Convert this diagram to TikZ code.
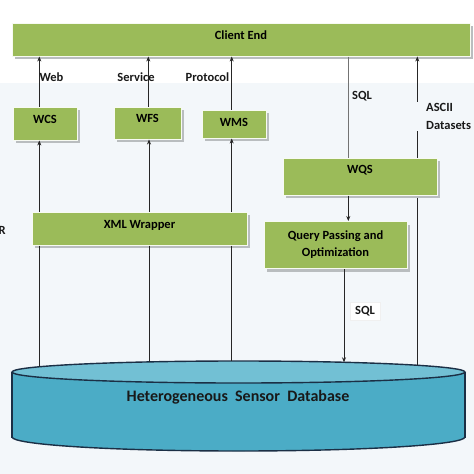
\documentclass[tikz,border=0pt]{standalone}
\usepackage{fontspec}
\setmainfont{Carlito}
\usetikzlibrary{arrows.meta}
\definecolor{boxgreen}{HTML}{9BBB59}
\definecolor{dbbody}{HTML}{4BACC6}
\definecolor{dbtopc}{HTML}{72C0D4}
\definecolor{dbline}{HTML}{1B2F45}
\definecolor{bgblue}{HTML}{F3F7FA}
\definecolor{shadowc}{HTML}{B9BDBF}
\begin{document}
\begin{tikzpicture}[x=1pt,y=-1pt,
  font=\bfseries\fontsize{12.5}{15}\selectfont,
  gbox/.style={rectangle, fill=boxgreen, draw=white!92!boxgreen, line width=1pt, inner sep=0pt,
    preaction={fill=shadowc, transform canvas={xshift=2.5pt,yshift=-3pt}}},
  tshift/.style={text height=8pt, text depth=#1},
  lbl/.style={inner sep=1pt, text=black!90},
  arr/.style={-{Stealth[length=5pt,width=4pt]}, line width=0.7pt, draw=black!85},
  ln/.style={line width=0.7pt, draw=black!85}
]
\useasboundingbox (0,0) rectangle (474,474);
\fill[bgblue] (0,0) rectangle (474,474);
\fill[white] (0,0) rectangle (474,83);

% database cylinder
\draw[dbline, line width=1.4pt, fill=dbbody] (238.5,437) ellipse[x radius=226.5, y radius=14];
\fill[dbbody] (12,372) rectangle (465,437);
\draw[dbline, line width=1.4pt] (12,372) -- (12,437.5);
\draw[dbline, line width=1.4pt] (465,372) -- (465,437.5);
\draw[dbline, line width=1.4pt, fill=dbtopc] (238.5,372) ellipse[x radius=226.5, y radius=11];
\node[font=\bfseries\fontsize{16}{19}\selectfont, text=black!90, inner sep=0pt] (dbtext) at (238,397) {Heterogeneous\ \ Sensor\ \ Database};

% points on the top of the database
\coordinate (d1) at (39.3,366.8);
\coordinate (d2) at (149,361.9);
\coordinate (d3) at (231.7,361.0);
\coordinate (d4) at (344,362.3);
\coordinate (d5) at (417.3,365.2);

% boxes
\node[gbox, tshift=9pt, minimum width=458, minimum height=33] (client) at (241,39.5) {Client End};

% line from database to client (behind WQS)
\draw[arr] (d5) -- (d5 |- client.south);

\node[gbox, tshift=9pt, minimum width=64, minimum height=33] (wcs) at (45,123.5) {WCS};
\node[gbox, tshift=10pt, minimum width=67, minimum height=32] (wfs) at (147.5,123) {WFS};
\node[gbox, tshift=4pt, minimum width=64, minimum height=28] (wms) at (234,124) {WMS};
\node[gbox, tshift=9pt, minimum width=215, minimum height=33] (xml) at (139.5,228.5) {XML Wrapper};
\node[gbox, tshift=15pt, minimum width=154, minimum height=37] (wqs) at (360,176.5) {WQS};
\node[gbox, minimum width=143, minimum height=47, align=center, font=\bfseries\fontsize{12.5}{17}\selectfont] (qpo) at (335.5,245) {Query Passing and\\Optimization};

% connectors to client end
\draw[arr] ([xshift=-5.7pt]wcs.north) -- ([xshift=-5.7pt]wcs.north |- client.south);
\draw[arr] ([xshift=0.8pt]wfs.north) -- ([xshift=0.8pt]wfs.north |- client.south);
\draw[arr] ([xshift=-2.3pt]wms.north) -- ([xshift=-2.3pt]wms.north |- client.south);
% xml wrapper to services
\draw[arr] ([xshift=-5.7pt]wcs.south |- xml.north) -- ([xshift=-5.7pt]wcs.south);
\draw[arr] ([xshift=1.5pt]wfs.south |- xml.north) -- ([xshift=1.5pt]wfs.south);
\draw[arr] ([xshift=-2.3pt]wms.south |- xml.north) -- ([xshift=-2.3pt]wms.south);
% xml wrapper to database
\draw[ln] (d1 |- xml.south) -- (d1);
\draw[ln] (d2 |- xml.south) -- (d2);
\draw[ln] (d3 |- xml.south) -- (d3);
% client to WQS, WQS to QPO, QPO to DB
\draw[line width=1pt, draw=black!55] ([xshift=-11.7pt]wqs.north |- client.south) -- ([xshift=-11.7pt]wqs.north);
\draw[arr] ([xshift=-11.7pt]wqs.south) -- ([xshift=-11.7pt]wqs.south |- qpo.north);
\draw[arr] (d4 |- qpo.south) -- (d4);

% labels
\node[lbl] (lweb) at (51.5,77) {Web};
\node[lbl] (lservice) at (136,77) {Service};
\node[lbl] (lprotocol) at (207.5,77) {Protocol};
\node[lbl] (lsql1) at (362,96.5) {SQL};
\node[lbl, fill=bgblue, anchor=west, align=left, inner xsep=0pt, inner ysep=1pt, font=\bfseries\fontsize{12.5}{18}\selectfont] (lascii) at (414,116.5) {\hspace{12pt}ASCII\\\hspace{12pt}Datasets};
\node[lbl, fill=white, draw=black!6, inner xsep=5pt, inner ysep=4pt] (lsql2) at (365,311) {SQL};
\node[lbl, anchor=west, inner sep=0pt] (lr) at (-1.5,230) {R};
\end{tikzpicture}
\end{document}
